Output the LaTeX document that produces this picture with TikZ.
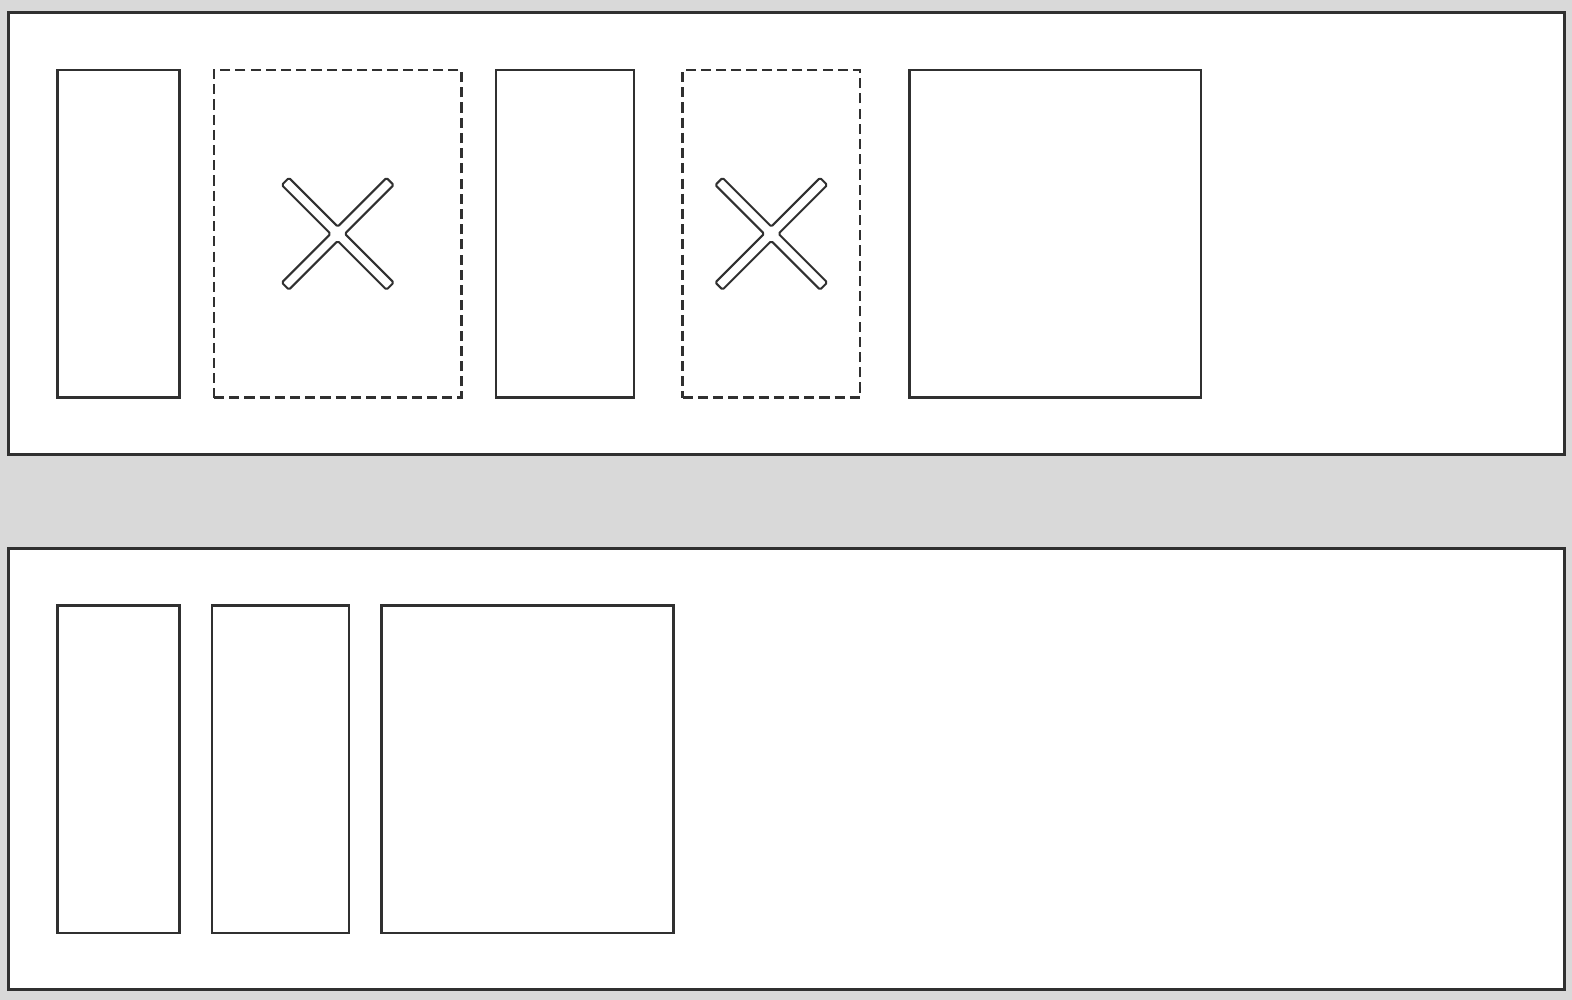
\documentclass[tikz,border=0pt]{standalone}
\definecolor{bgc}{HTML}{D9D9D9}
\definecolor{linec}{HTML}{303030}
\tikzset{
  panel/.style={rectangle, draw=linec, line width=3pt, fill=white, inner sep=0pt, outer sep=0pt},
  blk/.style={rectangle, draw=linec, line width=2.6pt, fill=white, inner sep=0pt, outer sep=0pt},
  gone/.style={blk, dash pattern=on 10pt off 5pt},
  crossmark/.style={draw=linec, line width=2pt, line join=round, rounded corners=1.5pt, fill=white}
}
\newcommand{\drawcross}[1]{%
  \begin{scope}[shift={(#1.center)}, rotate=45]
    \draw[crossmark] (5,5) -- (73,5) -- (73,-5) -- (5,-5) -- (5,-73)
      -- (-5,-73) -- (-5,-5) -- (-73,-5) -- (-73,5) -- (-5,5)
      -- (-5,73) -- (5,73) -- cycle;
  \end{scope}}
\begin{document}
\begin{tikzpicture}[x=1pt, y=-1pt]
  \fill[bgc] (0,0) rectangle (1550,986);
  \useasboundingbox (0,0) rectangle (1550,986);
  % panels
  \node[panel, minimum width=1535pt, minimum height=436pt] (top) at (775.5,230) {};
  \node[panel, minimum width=1535pt, minimum height=435pt] (bottom) at (775.5,758.5) {};
  % top row
  \node[blk,  minimum width=120pt, minimum height=323pt] (t1) at (117,230.5) {};
  \node[gone, minimum width=244pt, minimum height=323pt] (t2) at (333,230.5) {};
  \node[blk,  minimum width=136pt, minimum height=323pt] (t3) at (557,230.5) {};
  \node[gone, minimum width=175pt, minimum height=323pt] (t4) at (760.5,230.5) {};
  \node[blk,  minimum width=287pt, minimum height=323pt] (t5) at (1040.5,230.5) {};
  \drawcross{t2}
  \drawcross{t4}
  % bottom row
  \node[blk, minimum width=120pt, minimum height=323pt] (b1) at (117,758.5) {};
  \node[blk, minimum width=135pt, minimum height=323pt] (b2) at (276.5,758.5) {};
  \node[blk, minimum width=288pt, minimum height=323pt] (b3) at (520,758.5) {};
\end{tikzpicture}
\end{document}
